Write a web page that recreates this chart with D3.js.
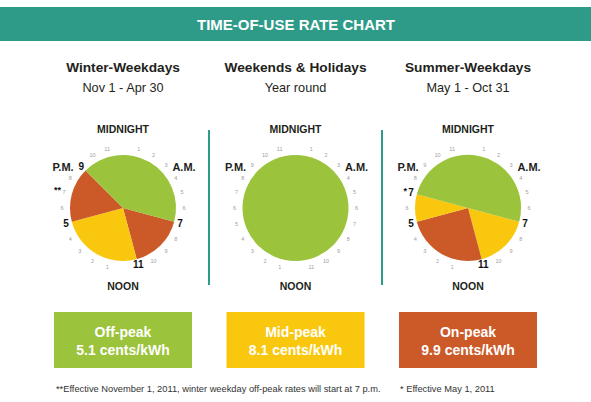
<!DOCTYPE html>
<html>
<head>
<meta charset="utf-8">
<script src="https://cdn.jsdelivr.net/npm/d3@7"></script>
<style>
  body { margin: 0; background: #fff; }
  text { font-family: "Liberation Sans", Arial, Helvetica, sans-serif; }
</style>
</head>
<body>
<svg id="chart" width="591" height="402"></svg>
<script>
// --- data ---
const title = "TIME-OF-USE RATE CHART";
const panelNames = ["Winter-Weekdays", "Weekends & Holidays", "Summer-Weekdays"];
const panelPeriods = ["Nov 1 - Apr 30", "Year round", "May 1 - Oct 31"];
const rateNames = ["Off-peak", "Mid-peak", "On-peak"];
const rateValues = [5.1, 8.1, 9.9];
// hour segments on a 24h clock (midnight = 0, clockwise)
const winterSegments = [
  { start: 7, end: 11, rate: "On-peak" },
  { start: 11, end: 17, rate: "Mid-peak" },
  { start: 17, end: 21, rate: "On-peak" },
  { start: 21, end: 31, rate: "Off-peak" }
];
const weekendSegments = [
  { start: 0, end: 24, rate: "Off-peak" }
];
const summerSegments = [
  { start: 7, end: 11, rate: "Mid-peak" },
  { start: 11, end: 17, rate: "On-peak" },
  { start: 17, end: 19, rate: "Mid-peak" },
  { start: 19, end: 31, rate: "Off-peak" }
];
const boldHours = [[7, 11, 17, 21], [], [7, 11, 17, 19]];
const starMarks = [{ hour: 19, mark: "**" }, null, { hour: 19, mark: "*" }];
const clockHours = d3.range(1, 24).filter(h => h !== 12);
const footnotes = [
  "**Effective November 1, 2011, winter weekday off-peak rates will start at 7 p.m.",
  "* Effective May 1, 2011"
];

const svg = d3.select("#chart");
const color = d3.scaleOrdinal()
    .domain(rateNames)
    .range(["#9bc33b", "#f9c70d", "#cc5a29"]);

// header bar
svg.append("rect")
    .attr("x", 0).attr("y", 7)
    .attr("width", 591).attr("height", 34)
    .attr("fill", "#2e9b89");
svg.append("text")
    .attr("x", 296).attr("y", 29.5)
    .attr("text-anchor", "middle")
    .attr("fill", "#fff")
    .style("font-size", "15px")
    .style("font-weight", "bold")
    .text(title);

const panelX = d3.scalePoint().domain(panelNames).range([123, 468]);
const cy = 208;
const r = 53;
const angle = d3.scaleLinear().domain([0, 24]).range([0, 2 * Math.PI]);
const arc = d3.arc().innerRadius(0).outerRadius(r);
const allSegments = [winterSegments, weekendSegments, summerSegments];

panelNames.forEach((name, i) => {
  const cx = panelX(name);
  const g = svg.append("g").attr("transform", `translate(${cx},0)`);

  g.append("text")
      .attr("y", 72)
      .attr("text-anchor", "middle")
      .attr("fill", "#231f20")
      .style("font-size", "13.7px")
      .style("font-weight", "bold")
      .text(name);
  g.append("text")
      .attr("y", 92)
      .attr("text-anchor", "middle")
      .attr("fill", "#231f20")
      .style("font-size", "12.7px")
      .text(panelPeriods[i]);

  g.append("text").attr("y", 133).attr("text-anchor", "middle")
      .attr("fill", "#231f20").style("font-size", "10.5px").style("font-weight", "bold")
      .text("MIDNIGHT");
  g.append("text").attr("y", 290).attr("text-anchor", "middle")
      .attr("fill", "#231f20").style("font-size", "10.5px").style("font-weight", "bold")
      .text("NOON");
  g.append("text").attr("x", -60).attr("y", 171).attr("text-anchor", "middle")
      .attr("fill", "#231f20").style("font-size", "11px").style("font-weight", "bold")
      .text("P.M.");
  g.append("text").attr("x", 61).attr("y", 171).attr("text-anchor", "middle")
      .attr("fill", "#231f20").style("font-size", "11px").style("font-weight", "bold")
      .text("A.M.");

  const pie = g.append("g").attr("transform", `translate(0,${cy})`);
  pie.selectAll("path")
      .data(allSegments[i])
      .join("path")
      .attr("d", d => arc({ startAngle: angle(d.start), endAngle: angle(d.end) }))
      .attr("fill", d => color(d.rate));

  // hour numbers round the clock
  const bold = boldHours[i];
  pie.selectAll("text.hour")
      .data(clockHours)
      .join("text")
      .attr("class", "hour")
      .attr("x", h => (bold.includes(h) ? 59 : 61) * Math.sin(angle(h)))
      .attr("y", h => -(bold.includes(h) ? 59 : 61) * Math.cos(angle(h)))
      .attr("text-anchor", "middle")
      .attr("dominant-baseline", "central")
      .attr("fill", h => bold.includes(h) ? "#111" : "#a0a0a0")
      .style("font-size", h => bold.includes(h) ? "10px" : "5.5px")
      .style("font-weight", h => bold.includes(h) ? "bold" : "normal")
      .text(h => h % 12);

  const star = starMarks[i];
  if (star) {
    const isBold = bold.includes(star.hour);
    const rr = isBold ? 59 : 61;
    pie.append("text")
        .attr("x", rr * Math.sin(angle(star.hour)) - (isBold ? 4 : 3))
        .attr("y", -rr * Math.cos(angle(star.hour)) - 2)
        .attr("text-anchor", "end")
        .attr("dominant-baseline", "central")
        .attr("fill", "#111")
        .style("font-size", "9px")
        .style("font-weight", "bold")
        .text(star.mark);
  }
});

// dividers between the clocks
[209, 382].forEach(x => {
  svg.append("line")
      .attr("x1", x).attr("x2", x)
      .attr("y1", 130).attr("y2", 285)
      .attr("stroke", "#2e9b89")
      .attr("stroke-width", 2);
});

// rate boxes
const boxX = d3.scalePoint().domain(rateNames).range([54, 399]);
const boxes = svg.selectAll("g.box")
    .data(rateNames)
    .join("g")
    .attr("class", "box")
    .attr("transform", d => `translate(${boxX(d)},312)`);
boxes.append("rect")
    .attr("width", 138).attr("height", 56)
    .attr("fill", d => color(d));
boxes.append("text")
    .attr("x", 69).attr("y", 25)
    .attr("text-anchor", "middle")
    .attr("fill", "#fff")
    .style("font-size", "14px")
    .style("font-weight", "bold")
    .text(d => d);
boxes.append("text")
    .attr("x", 69).attr("y", 43)
    .attr("text-anchor", "middle")
    .attr("fill", "#fff")
    .style("font-size", "14px")
    .style("font-weight", "bold")
    .text((d, i) => `${rateValues[i]} cents/kWh`);

// footnotes
svg.append("text").attr("x", 56).attr("y", 392)
    .attr("fill", "#333").style("font-size", "9.3px").text(footnotes[0]);
svg.append("text").attr("x", 400).attr("y", 392)
    .attr("fill", "#333").style("font-size", "9.3px").text(footnotes[1]);
</script>
</body>
</html>
